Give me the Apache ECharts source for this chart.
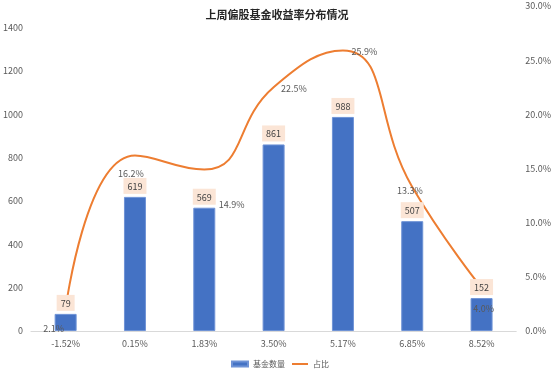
<!DOCTYPE html>
<html>
<head>
<meta charset="utf-8">
<script src="https://cdn.jsdelivr.net/npm/echarts@6/dist/echarts.min.js"></script>
<style>html,body{margin:0;padding:0;background:#fff}#chart1{width:554px;height:369px}</style>
</head>
<body>
<div id="chart1"></div>
<script>
var categories = ['-1.52%', '0.15%', '1.83%', '3.50%', '5.17%', '6.85%', '8.52%'];
var fundCount = [79, 619, 569, 861, 988, 507, 152];
var ratio = [2.1, 16.2, 14.9, 22.5, 25.9, 13.3, 4.0];
// label placement of the ratio line, one per point
var ratioLabelPos = [
 { position: 'left', offset: [4, 20] },
 { position: 'bottom', offset: [-4, 8] },
 { position: 'right', offset: [9, 35] },
 { position: 'right', offset: [2, 1] },
 { position: 'right', offset: [3, 1] },
 { position: 'left', offset: [16, 4] },
 { position: 'bottom', offset: [2, 11] }
];

var dom = document.getElementById("chart1");
var myChart = echarts.init(dom);

var ratioData = ratio.map(function (v, i) {
 return { value: v, label: ratioLabelPos[i] };
});

var axisText = { color: '#595959', fontSize: 9, fontFamily: 'Noto Sans CJK SC' };

option = {
 animation: false,
 textStyle: { fontFamily: 'Noto Sans CJK SC' },
 title: {
	 text: '上周偏股基金收益率分布情况',
	 left: 'center',
	 top: 4,
	 textStyle: { fontSize: 11, fontWeight: 'bold', color: '#262626', fontFamily: 'Noto Sans CJK SC' }
 },
 legend: {
	 data: [
		 { name: '基金数量', icon: 'rect' },
		 { name: '占比', icon: 'path://M0,0H16V2H0Z', itemStyle: { color: '#ED7D31' } }
	 ],
	 top: 355,
	 left: 226,
	 itemWidth: 16,
	 itemHeight: 5,
	 itemGap: 7,
	 textStyle: { color: '#595959', fontSize: 8 }
 },
 grid: {
	 left: 28,
	 right: 34,
	 top: 6,
	 bottom: 38
 },
 xAxis: [
	 {
		 type: 'category',
		 data: categories,
		 axisLine: { lineStyle: { color: '#d9d9d9' } },
		 axisTick: { show: false },
		 axisLabel: Object.assign({ margin: 8 }, axisText)
	 }
 ],
 yAxis: [
	 {
		 type: 'value',
		 min: 0,
		 max: 1500,
		 interval: 200,
		 splitLine: { show: false },
		 axisLine: { show: false },
		 axisLabel: Object.assign({
			 margin: 8,
			 formatter: function (v) { return v > 1400 ? '' : v; }
		 }, axisText)
	 },
	 {
		 type: 'value',
		 min: 0,
		 max: 30,
		 interval: 5,
		 splitLine: { show: false },
		 axisLine: { show: false },
		 axisLabel: Object.assign({
			 margin: 9,
			 formatter: function (v) { return v.toFixed(1) + '%'; }
		 }, axisText)
	 }
 ],
 series: [
	 {
		 name: '占比',
		 type: 'line',
		 yAxisIndex: 1,
		 data: ratio,
		 smooth: 0.5,
		 symbol: 'none',
		 z: 1,
		 lineStyle: { color: '#ED7D31', width: 2 },
		 itemStyle: { color: '#ED7D31' }
	 },
	 {
		 name: '基金数量',
		 type: 'bar',
		 data: fundCount,
		 barWidth: 22,
		 z: 2,
		 itemStyle: { color: '#4472C4', borderColor: '#6f93d6', borderWidth: 1 },
		 label: {
			 show: true,
			 position: 'top',
			 distance: 3,
			 color: '#404040',
			 fontSize: 9,
			 backgroundColor: '#FBE5D6',
			 padding: [4, 4, 3, 4]
		 }
	 },
	 {
		 // labels of the ratio line, drawn above the bars
		 name: 'ratioLabels',
		 type: 'line',
		 yAxisIndex: 1,
		 data: ratioData,
		 smooth: 0.5,
		 symbol: 'circle',
		 symbolSize: 1,
		 z: 3,
		 lineStyle: { color: 'rgba(0,0,0,0)', width: 0 },
		 itemStyle: { color: 'rgba(0,0,0,0)' },
		 label: {
			 show: true,
			 color: '#595959',
			 fontSize: 9,
			 formatter: function (p) { return p.value.toFixed(1) + '%'; }
		 }
	 }
 ]
};

myChart.setOption(option);
</script>
</body>
</html>
